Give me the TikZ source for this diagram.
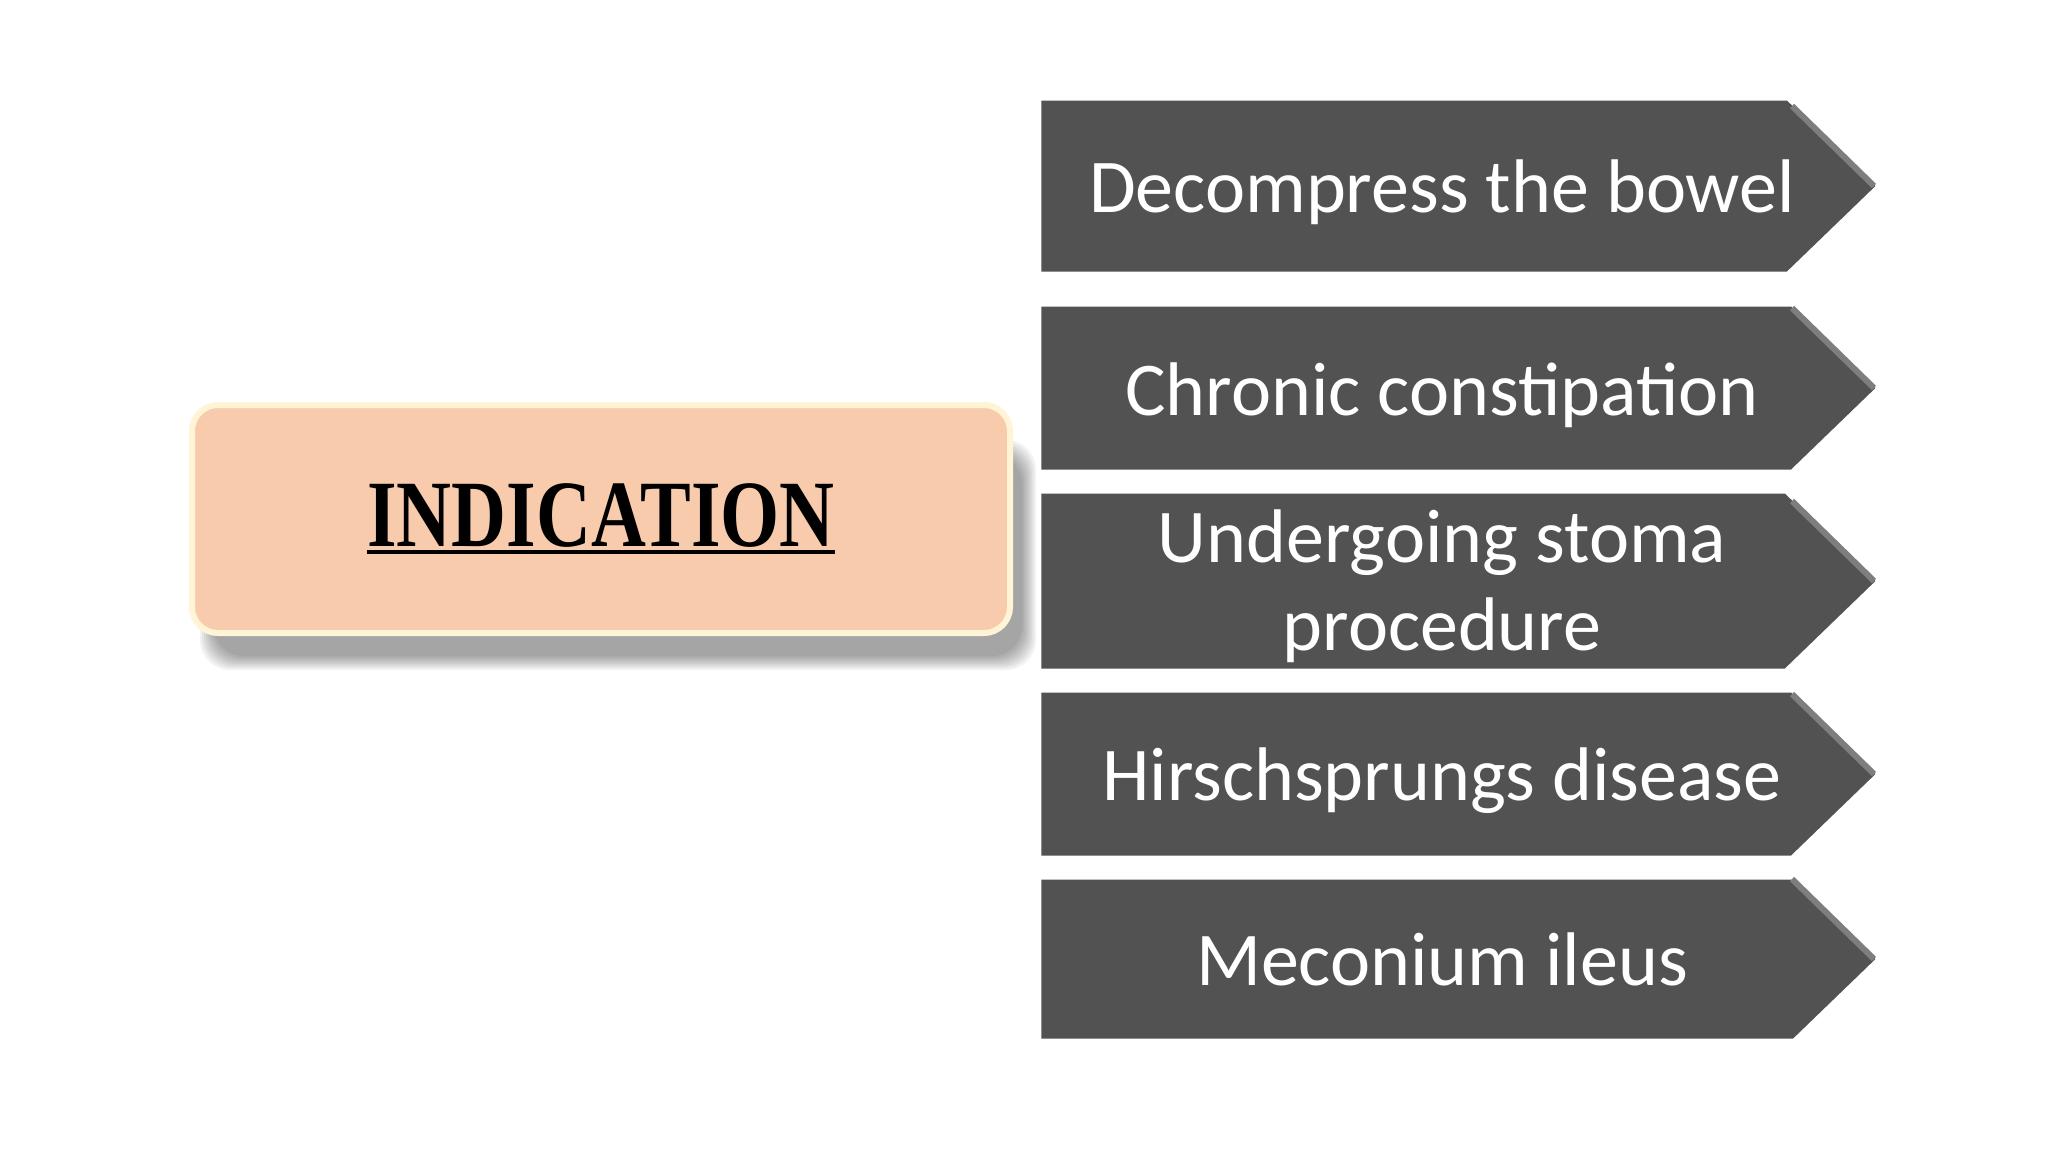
\documentclass[tikz,border=0pt]{standalone}
\usepackage{fontspec}
\newfontfamily\bodyfont{Carlito}
\newfontfamily\headfont{Liberation Serif}
\usetikzlibrary{shapes.symbols}
\definecolor{peach}{HTML}{F8CBAD}
\definecolor{slate}{HTML}{525253}
\definecolor{glow}{HTML}{FFF4D6}
\definecolor{bevel}{HTML}{7E7E80}
% thick underline
\newcommand\thickul[1]{\setbox0=\hbox{#1}\copy0\llap{\rule[-4pt]{\wd0}{2pt}}}

\begin{document}
\begin{tikzpicture}[x=0.5pt, y=-0.5pt,
    tag/.style={signal, signal to=east, signal pointer angle=88, fill=slate,
      minimum width=417pt, inner sep=0pt, anchor=west},
    tagtext/.style={text=white, font=\bodyfont\fontsize{38}{44}\selectfont,
      align=center, inner sep=0pt, anchor=base},
    headbox/.style={rectangle, rounded corners=13pt, fill=peach, draw=glow,
      line width=3pt, minimum width=409pt, minimum height=114pt,
      font=\headfont\bfseries\fontsize{47.5}{50}\selectfont},
    edge/.style={bevel, line width=3pt}]
    % Canvas
    \useasboundingbox[fill=white] (0,0) rectangle (2048,1152);

    % Soft shadow under the header
    \foreach \s in {0,2,...,14}
        \fill[black, opacity=0.05, rounded corners=15pt]
            (200+\s, 440+\s) rectangle (1036-\s, 670-\s);

    % Header box
    \node[headbox] (head) at (601,519) {\scalebox{0.8}[1]{\thickul{INDICATION}}};

    % Indication arrows
    \node[tag, minimum height=85.5pt] (bowel) at (1041,186) {};
    \node[tag, minimum height=81.5pt] (chronic) at (1041,388) {};
    \node[tag, minimum height=87.5pt] (stoma) at (1041,581) {};
    \node[tag, minimum height=81.5pt] (hirsch) at (1041,774) {};
    \node[tag, minimum height=79.5pt] (ileus) at (1041,959) {};

    % Bevel on the arrow tips
    \foreach \n in {bowel,chronic,stoma,hirsch,ileus}
        \draw[edge] ([xshift=-1pt]\n.east) -- ++(-82,-80);

    % Arrow labels (base = last line)
    \node[tagtext] (bowel-txt) at (1442,212) {Decompress the bowel};
    \node[tagtext] (chronic-txt) at (1442,415) {Chronic constipation};
    \node[tagtext] (stoma-txt) at (1442,650) {Undergoing stoma\\procedure};
    \node[tagtext] (hirsch-txt) at (1442,800) {Hirschsprungs disease};
    \node[tagtext] (ileus-txt) at (1442,985) {Meconium ileus};
\end{tikzpicture}
\end{document}
